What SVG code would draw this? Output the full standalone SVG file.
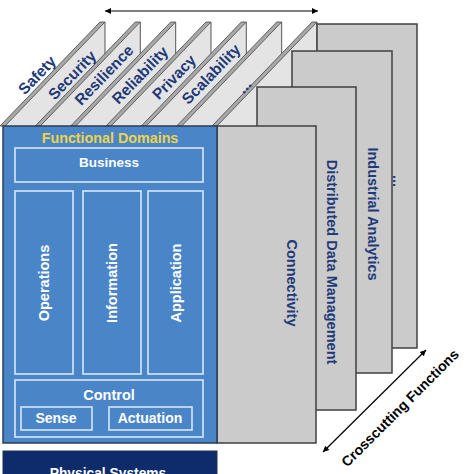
<svg xmlns="http://www.w3.org/2000/svg" xmlns:xlink="http://www.w3.org/1999/xlink" width="474" height="474" viewBox="0 0 474 474">
<style>
.face{fill:#e4e4e4;stroke:none}
.edge{stroke:#555;stroke-width:1}
.band{fill:#a8a8a8;stroke:#555;stroke-width:0.9}
.slab{font-family:"Liberation Sans",Arial,sans-serif;font-weight:bold;font-size:15.5px;fill:#1f3a78;text-anchor:middle}
.panel{fill:#cbcbcb;stroke:#404040;stroke-width:1.5}
.ptxt{font-family:"Liberation Sans",Arial,sans-serif;font-weight:bold;font-size:14.5px;fill:#1f3a78;text-anchor:middle}
.inner{fill:none;stroke:#d8e6f5;stroke-width:1.6}
.wt{font-family:"Liberation Sans",Arial,sans-serif;font-weight:bold;font-size:14.5px;fill:#ffffff;text-anchor:middle}
.conn{stroke:#000;stroke-width:1.2;fill:none}
</style>
<defs>
<g id="slat">
<polygon class="face" points="5,126 105,22 105,126"/>
<line class="edge" x1="105" y1="22" x2="105" y2="126"/>
<polygon class="band" points="0,126 5,126 105,22 100,22"/>
</g>
<marker id="ah" viewBox="0 0 10 10" refX="10" refY="5" markerWidth="8" markerHeight="6" markerUnits="userSpaceOnUse" orient="auto-start-reverse">
<path d="M0,0 L10,5 L0,10 z" fill="#000"/>
</marker>
</defs>
<rect width="474" height="474" fill="#fff"/>

<g id="slat-safety"><use xlink:href="#slat"/><text class="slab" transform="translate(37,75) rotate(-46)" dy="0.35em">Safety</text></g>
<g id="slat-security"><use xlink:href="#slat" transform="translate(35.3,0)"/><text class="slab" transform="translate(72,75) rotate(-46)" dy="0.35em">Security</text></g>
<g id="slat-resilience"><use xlink:href="#slat" transform="translate(70.7,0)"/><text class="slab" transform="translate(104,75) rotate(-46)" dy="0.35em">Resilience</text></g>
<g id="slat-reliability"><use xlink:href="#slat" transform="translate(106,0)"/><text class="slab" transform="translate(140,75) rotate(-46)" dy="0.35em">Reliability</text></g>
<g id="slat-privacy"><use xlink:href="#slat" transform="translate(141.3,0)"/><text class="slab" transform="translate(174,77) rotate(-46)" dy="0.35em">Privacy</text></g>
<g id="slat-scalability"><use xlink:href="#slat" transform="translate(176.7,0)"/><text class="slab" transform="translate(211,74) rotate(-46)" dy="0.35em">Scalability</text></g>
<g id="slat-more"><use xlink:href="#slat" transform="translate(212,0)"/><text class="slab" transform="translate(244,86) rotate(-46)" dy="0.35em">...</text></g>

<g id="panel-more"><rect class="panel" x="317" y="24" width="100" height="324"/><text class="ptxt" transform="translate(398,181) rotate(90)" dy="0.35em">...</text></g>
<g id="panel-analytics"><rect class="panel" x="292" y="51" width="100" height="322"/><text class="ptxt" transform="translate(373,214) rotate(90)" dy="0.35em">Industrial Analytics</text></g>
<g id="panel-ddm"><rect class="panel" x="257" y="87" width="99" height="323"/><text class="ptxt" transform="translate(332,262) rotate(90)" dy="0.35em">Distributed Data Management</text></g>
<g id="panel-connectivity"><rect class="panel" x="217" y="126" width="99" height="317"/><text class="ptxt" transform="translate(292,283) rotate(90)" dy="0.35em">Connectivity</text></g>

<g id="functional-domains">
<rect x="3" y="126" width="214" height="317" fill="#4a85c8" stroke="#2b3e55" stroke-width="1.5"/>
<text x="110" y="143" style="font-family:'Liberation Sans',Arial,sans-serif;font-weight:bold;font-size:14.3px;fill:#eed34a;text-anchor:middle">Functional Domains</text>
</g>
<g id="business"><rect class="inner" x="15" y="148" width="188" height="34"/><text class="wt" x="109" y="167" style="font-size:13.5px">Business</text></g>
<g id="operations"><rect class="inner" x="15" y="191" width="58" height="183"/><text class="wt" transform="translate(44,283) rotate(-90)" dy="0.35em">Operations</text></g>
<g id="information"><rect class="inner" x="83" y="191" width="58" height="183"/><text class="wt" transform="translate(112,283) rotate(-90)" dy="0.35em">Information</text></g>
<g id="application"><rect class="inner" x="148" y="191" width="55" height="183"/><text class="wt" transform="translate(176,283) rotate(-90)" dy="0.35em">Application</text></g>
<g id="control"><rect class="inner" x="15" y="380" width="188" height="57"/><text class="wt" x="109" y="400">Control</text></g>
<g id="sense"><rect class="inner" x="21" y="407" width="71" height="23"/><text class="wt" x="56" y="423" style="font-size:14px">Sense</text></g>
<g id="actuation"><rect class="inner" x="109" y="407" width="83" height="23"/><text class="wt" x="150" y="423" style="font-size:14px">Actuation</text></g>

<g id="physical-systems"><rect x="3" y="451" width="214" height="30" fill="#0e2c6c" stroke="#23324a" stroke-width="1"/><text class="wt" x="108" y="477.5" style="font-size:13.8px">Physical Systems</text></g>

<g id="connectors">
<line class="conn" x1="105" y1="11" x2="318" y2="11" marker-start="url(#ah)" marker-end="url(#ah)"/>
<line class="conn" x1="323" y1="452" x2="426" y2="350" marker-start="url(#ah)" marker-end="url(#ah)"/>
<text transform="translate(400,408) rotate(-45)" dy="0.35em" style="font-family:'Liberation Sans',Arial,sans-serif;font-weight:bold;font-size:14.2px;fill:#000;text-anchor:middle">Crosscutting Functions</text>
</g>
</svg>
